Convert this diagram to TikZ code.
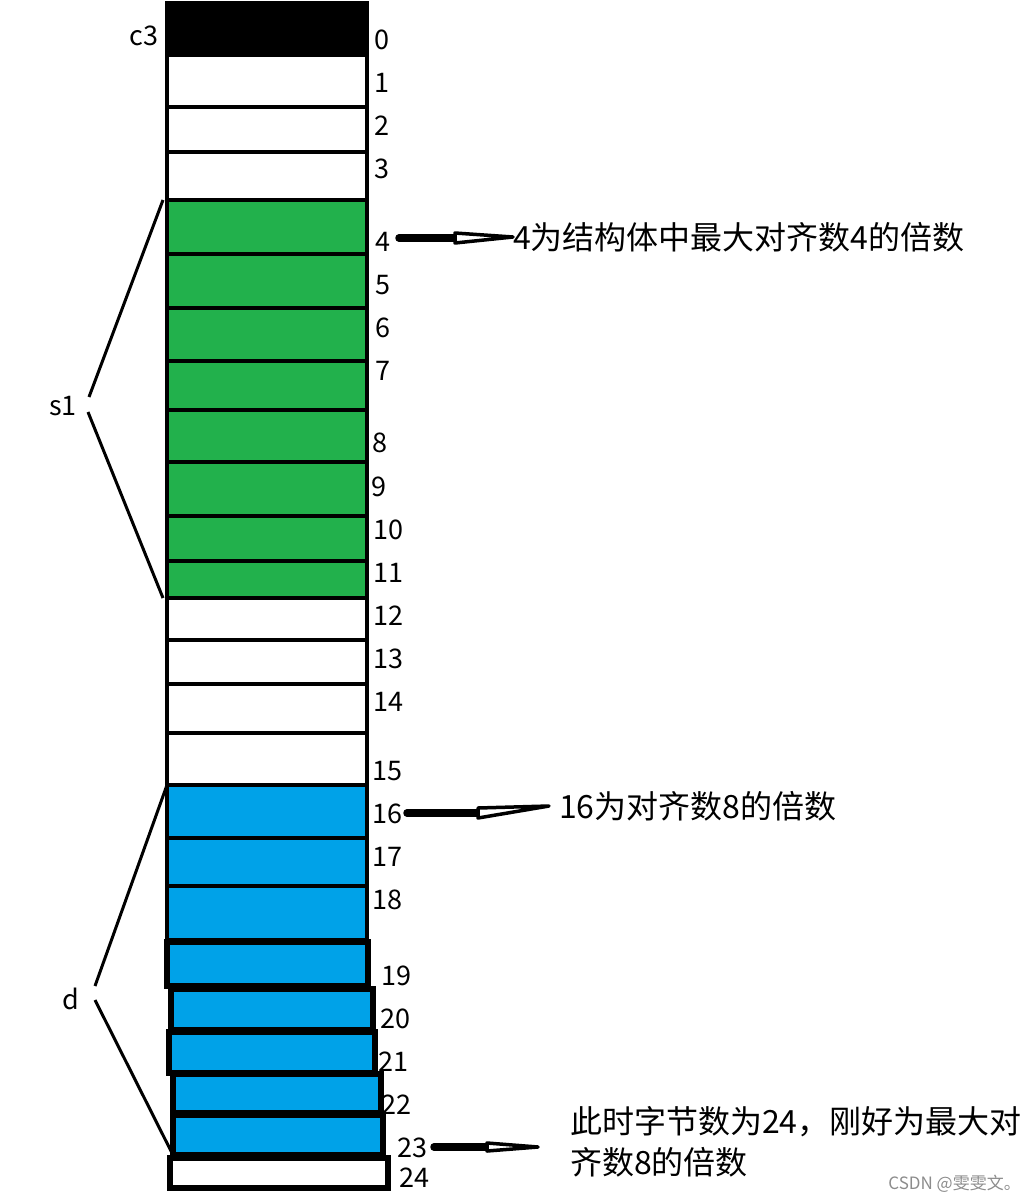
\documentclass[tikz,border=0pt]{standalone}
\usepackage{fontspec}
\setmainfont{Noto Sans CJK SC}
\definecolor{pgreen}{HTML}{22B14C}
\definecolor{pblue}{HTML}{00A2E8}
\newcommand\mkcell[6]{%
  \node[cell, fill=#6, minimum width={#4pt-#2pt}, minimum height={#5pt-#3pt}]
    (c#1) at ({(#2+#4)/2},{(#3+#5)/2}) {};}
\newcommand\mkcellb[6]{%
  \node[cell, line width=6pt, fill=#6, minimum width={#4pt-#2pt}, minimum height={#5pt-#3pt}]
    (c#1) at ({(#2+#4)/2},{(#3+#5)/2}) {};}
\newcommand\mknum[3]{\node[num] (n#1) at (#2,#3) {#1};}
\begin{document}
\begin{tikzpicture}[x=1pt,y=-1pt,
  cell/.style={draw=black, line width=4.5pt, inner sep=0pt, outer sep=0pt, rectangle},
  num/.style={anchor=west, font=\fontsize{27}{30}\selectfont, inner sep=0pt},
  side/.style={font=\fontsize{27}{30}\selectfont, inner sep=0pt},
  note/.style={anchor=west, font=\fontsize{32}{41}\selectfont, inner sep=0pt, align=left},
  brace/.style={line width=3pt},
  shaft/.style={line width=7.5pt, line cap=round},
  tiphead/.style={line width=3.5pt, fill=white, line join=round}]
\useasboundingbox (0,0) rectangle (1031,1203);
% cells
\mkcell{0}{167}{3}{367}{55}{black}
\mkcell{1}{167}{55}{367}{107}{white}
\mkcell{2}{167}{107}{367}{152}{white}
\mkcell{3}{167}{152}{367}{200}{white}
\mkcell{4}{167}{200}{367}{254}{pgreen}
\mkcell{5}{167}{254}{367}{308}{pgreen}
\mkcell{6}{167}{308}{367}{361}{pgreen}
\mkcell{7}{167}{361}{367}{410}{pgreen}
\mkcell{8}{167}{410}{367}{462}{pgreen}
\mkcell{9}{167}{462}{367}{516}{pgreen}
\mkcell{10}{167}{516}{367}{561}{pgreen}
\mkcell{11}{167}{561}{367}{598}{pgreen}
\mkcell{12}{167}{598}{367}{640}{white}
\mkcell{13}{167}{640}{367}{684}{white}
\mkcell{14}{167}{684}{367}{733}{white}
\mkcell{15}{167}{733}{367}{785}{white}
\mkcell{16}{167}{785}{367}{838}{pblue}
\mkcell{17}{167}{838}{367}{886}{pblue}
\mkcell{18}{167}{886}{367}{940}{pblue}
\mkcellb{19}{167}{942}{368}{986}{pblue}
\mkcellb{20}{171}{989}{373}{1030}{pblue}
\mkcellb{21}{169}{1032}{375}{1073}{pblue}
\mkcellb{22}{173}{1074}{381}{1113}{pblue}
\mkcellb{23}{173}{1115}{383}{1155}{pblue}
\mkcellb{24}{170}{1158}{388}{1188}{white}
% numbers
\mknum{0}{374}{40}
\mknum{1}{374}{83}
\mknum{2}{374}{126}
\mknum{3}{374}{169}
\mknum{4}{375}{242}
\mknum{5}{375}{285}
\mknum{6}{375}{328}
\mknum{7}{375}{371}
\mknum{8}{372}{443}
\mknum{9}{371}{487}
\mknum{10}{373}{530}
\mknum{11}{373}{573}
\mknum{12}{373}{616}
\mknum{13}{373}{659}
\mknum{14}{373}{702}
\mknum{15}{372}{771}
\mknum{16}{372}{814}
\mknum{17}{372}{857}
\mknum{18}{372}{900}
\mknum{19}{381}{976}
\mknum{20}{380}{1019}
\mknum{21}{378}{1062}
\mknum{22}{381}{1105}
\mknum{23}{397}{1148}
\mknum{24}{399}{1178}
% side labels
\node[side] (lc3) at (144,36) {c3};
\node[side] (ls1) at (63,406) {s1};
\node[side] (ld) at (71,999) {d};
% braces
\coordinate (s1a) at (89,397);
\coordinate (s1b) at (88,412);
\coordinate (da) at (95,986);
\coordinate (db) at (95,1000);
\draw[brace] ([xshift=-4pt]c4.north west) -- (s1a);
\draw[brace] (s1b) -- ([xshift=-4pt]c11.south west);
\draw[brace] (c16.north west) -- (da);
\draw[brace] (db) -- (c23.south west);
% notes
\node[note] (t1) at (513,237) {4为结构体中最大对齐数4的倍数};
\node[note] (t2) at (559,806) {16为对齐数8的倍数};
\node[note] (t3) at (570,1142) {此时字节数为24，刚好为最大对\\齐数8的倍数};
\node[anchor=east, font=\fontsize{17}{20}\selectfont, text=black!45, inner sep=0pt] (wm) at (1021,1184) {CSDN @雯雯文。};
% arrows
\coordinate (a1s) at (399,238);
\coordinate (a1m) at (455,238);
\draw[shaft] (a1s) -- (a1m);
\draw[tiphead] ([yshift=5pt]a1m) -- (t1.west) -- ([yshift=-5pt]a1m) -- cycle;
\coordinate (a2s) at (407,813);
\coordinate (a2m) at (478,813);
\draw[shaft] (a2s) -- (a2m);
\draw[tiphead] ([yshift=5pt]a2m) -- ([xshift=-10pt]t2.west) -- ([yshift=-5pt]a2m) -- cycle;
\coordinate (a3s) at (434,1147);
\coordinate (a3m) at (487,1147);
\draw[shaft] (a3s) -- (a3m);
\draw[tiphead] ([yshift=4pt]a3m) -- (538,1147) coordinate (a3e) -- ([yshift=-4pt]a3m) -- cycle;
\end{tikzpicture}
\end{document}
